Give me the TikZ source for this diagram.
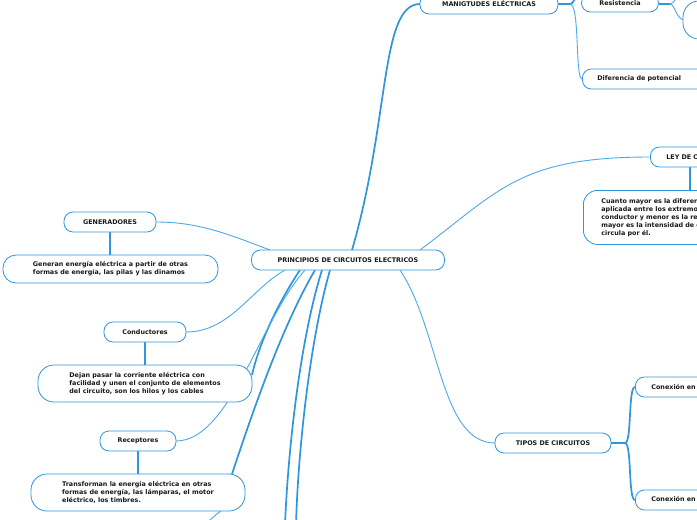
\documentclass[tikz,border=0pt]{standalone}
\usepackage{fontspec}
\setmainfont{DejaVu Sans}
\definecolor{bl}{HTML}{2F95DC}
\definecolor{lb}{HTML}{4AAAE6}
\begin{document}
\begin{tikzpicture}[x=1pt,y=-1pt,
  box/.style={draw=bl, line width=0.8pt, fill=white, rounded corners=9pt, font=\bfseries\fontsize{6.4}{8}\selectfont, text=black!90},
  ln/.style={draw=lb, line width=0.9pt},
  tk/.style={draw=bl, line width=1.7pt}]
\useasboundingbox (0,0) rectangle (697,520);
\clip (0,0) rectangle (697,520);
% connectors
\draw[tk] (352,250) .. controls (390,120) and (380,4) .. (420,4);
\draw[ln] (420,250) .. controls (500,190) and (520,157) .. (650,157);
\draw[ln] (400,270) .. controls (440,330) and (440,443) .. (495,443);
\draw[ln] (270,250) .. controls (230,235) and (200,222) .. (156,222);
\draw[ln] (285,270) .. controls (250,290) and (230,332) .. (186,332);
\draw[tk] (300,270) .. controls (280,300) and (260,340) .. (252,375);
\draw[ln] (305,270) .. controls (260,320) and (230,441) .. (176,441);
\draw[tk] (315,270) .. controls (280,330) and (250,420) .. (232,474);
\draw[ln] (225,508) .. controls (215,515) and (210,520) .. (205,525);
\draw[tk] (322,270) .. controls (300,340) and (288,450) .. (285,525);
\draw[tk] (330,270) .. controls (310,340) and (298,450) .. (296,525);
\draw[tk] (558,4) -- (570,4);
\draw[tk] (570,4) .. controls (575,4) and (572,-4) .. (582,-4);
\draw[ln] (570,4) .. controls (580,4) and (575,79) .. (582,79);
\draw[tk] (659,4) -- (670,4);
\draw[ln] (670,4) .. controls (675,4) and (676,20) .. (685,20);
\draw[ln] (670,4) .. controls (675,4) and (672,-4) .. (690,-4);
\draw[tk] (690,167) -- (690,190);
\draw[tk] (110,232) -- (110,255);
\draw[tk] (145,342) -- (145,365);
\draw[tk] (138,451) -- (138,474);
\draw[tk] (611,443) -- (625,443);
\draw[tk] (625,443) .. controls (632,443) and (628,387) .. (635,387);
\draw[tk] (625,443) .. controls (632,443) and (628,500) .. (635,500);
% nodes
\node[box, minimum width=193pt, minimum height=20pt] (p) at (348,260) {PRINCIPIOS DE CIRCUITOS ELECTRICOS};
\node[box, minimum width=138pt, minimum height=20pt] (m) at (489,4) {MANIGTUDES ELÉCTRICAS};
\node[box, minimum width=77pt, minimum height=18pt] (r) at (620,3) {Resistencia};
\node[box, minimum width=60pt, minimum height=38pt, rounded corners=16pt] (o) at (713,20) {};
\node[box, minimum width=150pt, minimum height=20pt, anchor=west, align=left, inner xsep=15pt, text width=120pt] (d) at (582,79) {Diferencia de potencial};
\node[box, minimum width=90pt, minimum height=20pt, anchor=west, align=left, inner xsep=16pt, text width=70pt] (l) at (650,157) {LEY DE OHM};
\node[box, anchor=north west, text width=160pt, minimum height=54pt, rounded corners=14pt, align=left, inner xsep=18pt] (cu) at (583,190) {Cuanto mayor es la diferencia de potencial\\aplicada entre los extremos de un\\conductor y menor es la resistencia,\\mayor es la intensidad de corriente que\\circula por él.};
\node[box, minimum width=92pt, minimum height=20pt] (g) at (110,222) {GENERADORES};
\node[box, minimum width=215pt, minimum height=28pt, rounded corners=13pt, align=left] (g2) at (110.5,269) {Generan energía eléctrica a partir de otras\\formas de energía, las pilas y las dinamos};
\node[box, minimum width=82pt, minimum height=20pt] (k) at (145,332) {Conductores};
\node[box, minimum width=214pt, minimum height=37pt, rounded corners=16pt, align=left] (k2) at (145,383.5) {Dejan pasar la corriente eléctrica con\\facilidad y unen el conjunto de elementos\\del circuito, son los hilos y los cables};
\node[box, minimum width=76pt, minimum height=20pt] (re) at (138,441) {Receptores};
\node[box, minimum width=214pt, minimum height=37pt, rounded corners=16pt, align=left] (re2) at (138,492.5) {Transforman la energía eléctrica en otras\\formas de energía, las lámparas, el motor\\eléctrico, los timbres.};
\node[box, minimum width=116pt, minimum height=20pt] (t) at (553,443) {TIPOS DE CIRCUITOS};
\node[box, minimum width=120pt, minimum height=20pt, anchor=west, align=left, inner xsep=16pt, text width=100pt] (s1) at (635,387) {Conexión en serie};
\node[box, minimum width=120pt, minimum height=20pt, anchor=west, align=left, inner xsep=16pt, text width=100pt] (s2) at (635,500) {Conexión en paralelo};
\end{tikzpicture}
\end{document}
